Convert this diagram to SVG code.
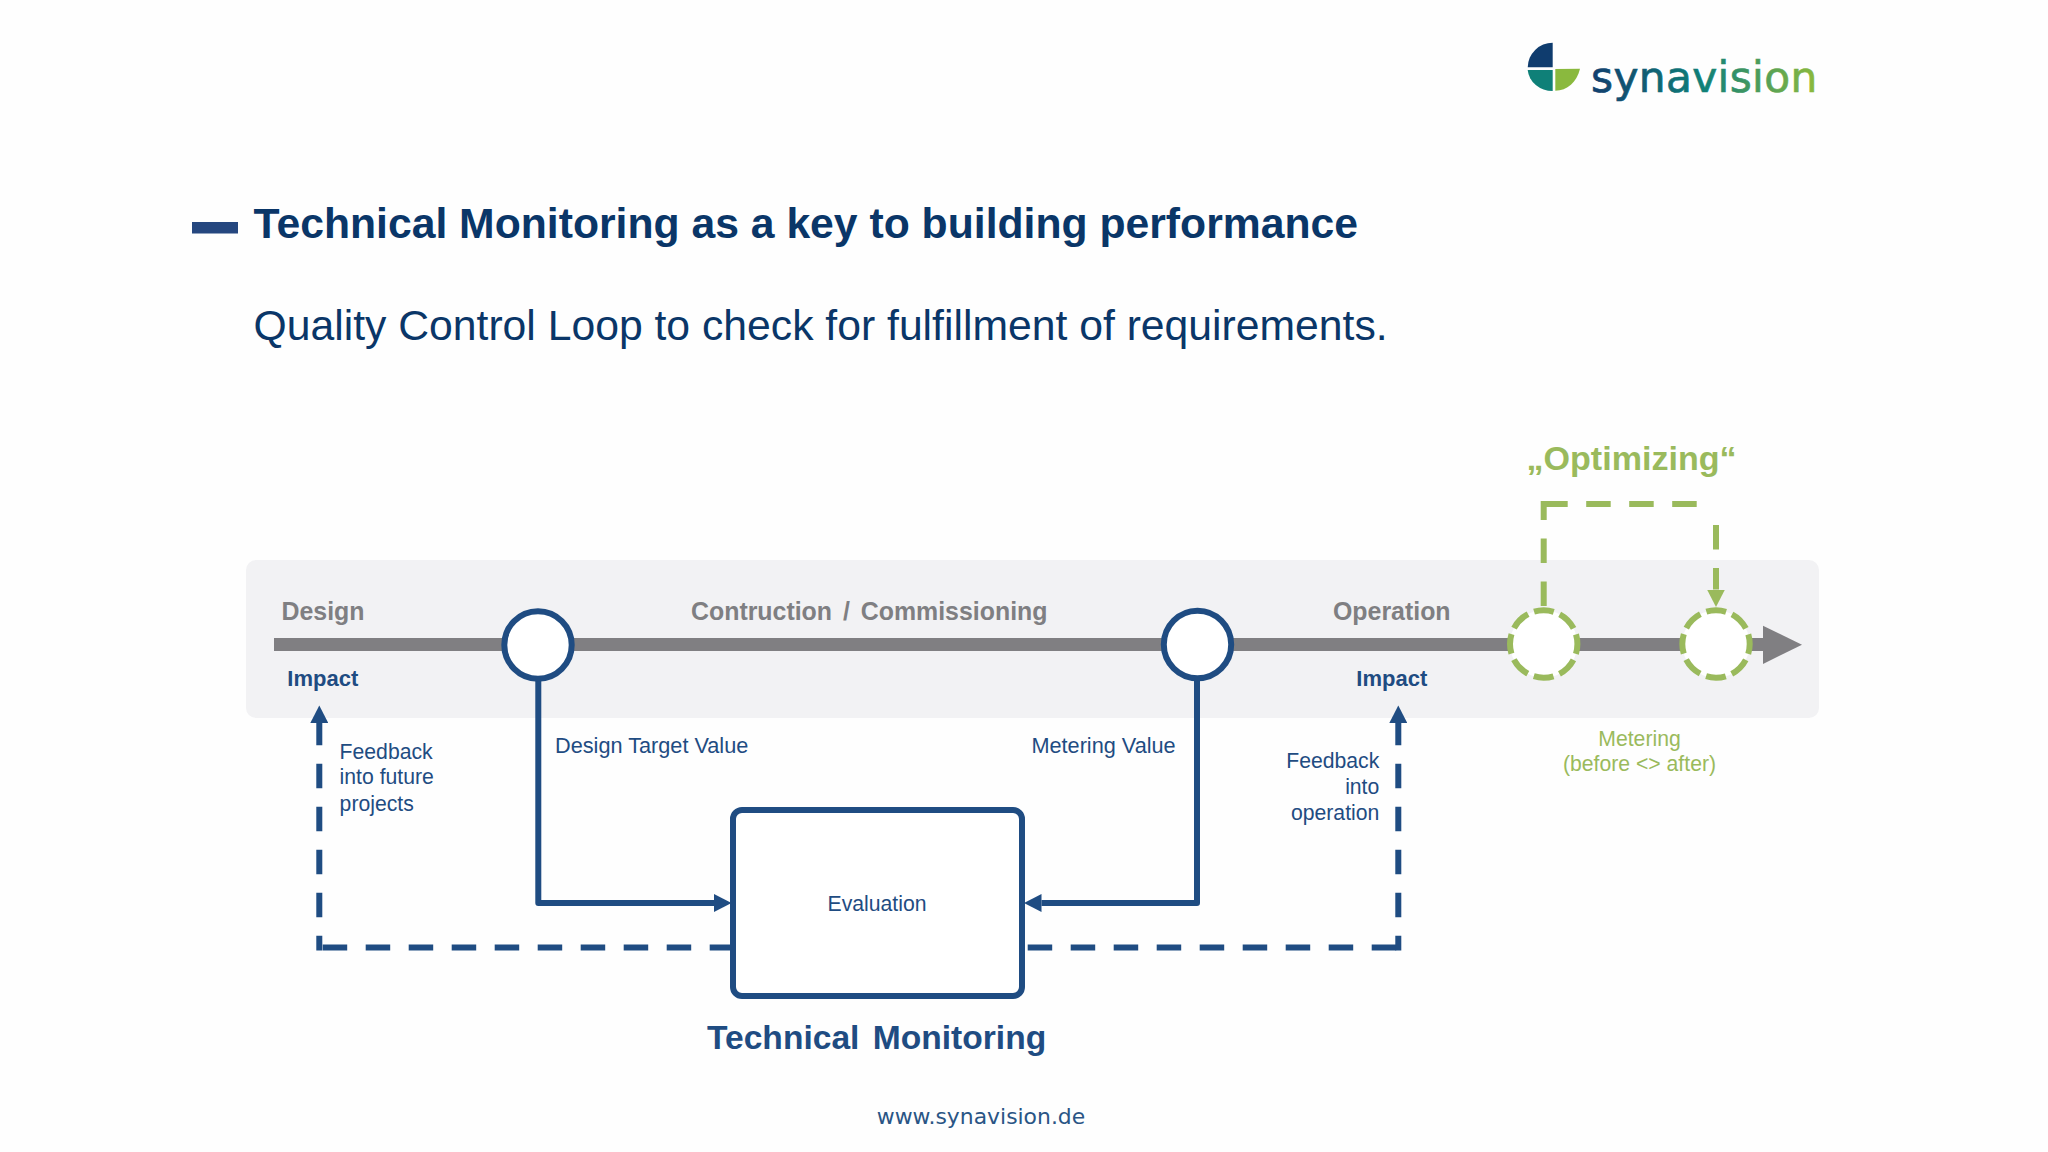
<svg xmlns="http://www.w3.org/2000/svg" width="2048" height="1152" viewBox="0 0 2048 1152">
<style>
text{font-family:"Liberation Sans",Arial,sans-serif}
.navy{fill:#0a3668}
.blue{fill:#1f4c82}
.grey{fill:#7f7f82;font-weight:700;font-size:24.9px}
.green{fill:#9aba5c}
.s{font-size:21.2px}
.m{font-size:21.7px}
.b{font-weight:700}
.sol{fill:none;stroke:#1f4c82;stroke-width:6;stroke-linejoin:round}
.dash{fill:none;stroke:#1f4c82;stroke-width:6;stroke-dasharray:24.5 18.5}
.gd{fill:none;stroke:#9aba5c;stroke-width:6;stroke-dasharray:24.5 18.5}
.node{fill:#fff;stroke:#1f4c82;stroke-width:6}
.gnode{fill:#fff;stroke:#9aba5c;stroke-width:6;stroke-dasharray:20 6.46;stroke-dashoffset:10}
</style>
<defs>
<linearGradient id="lg" gradientUnits="userSpaceOnUse" x1="1592" y1="0" x2="1815" y2="0">
<stop offset="0" stop-color="#123f6e"/><stop offset="0.5" stop-color="#0f8078"/><stop offset="1" stop-color="#8ab93e"/>
</linearGradient>
<marker id="ab" markerUnits="userSpaceOnUse" markerWidth="18" markerHeight="18" refX="0" refY="9" orient="auto-start-reverse"><path d="M0 0L17.5 9L0 18Z" fill="#1f4c82"/></marker>
<marker id="ag" markerUnits="userSpaceOnUse" markerWidth="18" markerHeight="18" refX="0" refY="9" orient="auto"><path d="M0 0L17.5 9L0 18Z" fill="#9aba5c"/></marker>
</defs>
<rect width="2048" height="1152" fill="#fefefe"/>
<g id="logo">
<path d="M1552.7 42.7A25 25 0 0 0 1527.7 67.3H1552.7Z" fill="#0f3c6e"/>
<path d="M1527.7 70A25 23 0 0 0 1552.7 91V70Z" fill="#0f8078"/>
<path d="M1555.3 69V90.7C1567 90.7 1577 82 1580 68.7Z" fill="#8ab93e"/>
<text x="1591" y="92" font-size="42.3" letter-spacing="0.35" stroke="url(#lg)" stroke-width="0.7" style="font-family:'DejaVu Sans',sans-serif" fill="url(#lg)">synavision</text>
</g>
<g id="title">
<rect x="192" y="222" width="46" height="11.5" fill="#25477f"/>
<text x="253.5" y="238.2" font-size="42.7" class="navy b">Technical Monitoring as a key to building performance</text>
<text x="253.5" y="340" font-size="42.7" class="navy">Quality Control Loop to check for fulfillment of requirements.</text>
</g>
<rect id="band" x="246" y="560" width="1573" height="158" rx="10" fill="#f2f2f4"/>
<g id="timeline">
<rect x="274" y="638" width="1490" height="13" fill="#807f82"/>
<path d="M1763 625.7L1802 644.7L1763 664Z" fill="#807f82"/>
</g>
<text x="281.5" y="620" class="grey">Design</text>
<text x="691" y="620" class="grey" word-spacing="4">Contruction / Commissioning</text>
<text x="1333" y="620" class="grey">Operation</text>
<text x="287.3" y="685.7" font-size="22" class="blue b">Impact</text>
<text x="1356.3" y="685.7" font-size="22" class="blue b">Impact</text>
<g id="connectors">
<path class="sol" d="M538.3 678V903H714" marker-end="url(#ab)"/>
<path class="sol" d="M1197 678V903H1041.5" marker-end="url(#ab)"/>
<path class="dash" d="M322.7 947.5H733"/>
<path class="dash" style="stroke-dashoffset:2.2" d="M319.3 723V950.5" marker-start="url(#ab)"/>
<path class="dash" d="M1027.7 947.5H1400"/>
<path class="dash" style="stroke-dashoffset:2.2" d="M1398.3 723V950.5" marker-start="url(#ab)"/>
<path class="gd" d="M1543.7 606V501"/>
<path class="gd" d="M1543.2 504H1697"/>
<path class="gd" d="M1716 525V589.5" marker-end="url(#ag)"/>
</g>
<g id="n1"><circle class="node" cx="538" cy="645" r="33.7"/></g>
<g id="n2"><circle class="node" cx="1197.5" cy="644.5" r="33.7"/></g>
<g id="n3"><circle class="gnode" cx="1543.7" cy="644" r="33.7"/></g>
<g id="n4"><circle class="gnode" cx="1716" cy="644" r="33.7"/></g>
<g id="eval"><rect class="node" x="733" y="810" width="289" height="186" rx="9"/><text x="877" y="910.7" text-anchor="middle" class="blue s">Evaluation</text></g>
<text x="707" y="1048.8" font-size="33.6" word-spacing="4" class="blue b">Technical Monitoring</text>
<g class="blue s"><text x="339.6" y="758.5">Feedback</text><text x="339.6" y="784.3">into future</text><text x="339.6" y="810.5">projects</text></g>
<text x="555" y="753" class="blue m">Design Target Value</text>
<text x="1175.7" y="752.7" text-anchor="end" class="blue m">Metering Value</text>
<g class="blue s" text-anchor="end"><text x="1379.3" y="768.3">Feedback</text><text x="1379.3" y="794">into</text><text x="1379.3" y="820.3">operation</text></g>
<text x="1639.5" y="746" text-anchor="middle" class="green s">Metering</text>
<text x="1639.5" y="771" text-anchor="middle" class="green s">(before &lt;&gt; after)</text>
<text x="1526.5" y="470" font-size="34.1" class="green b">„Optimizing“</text>
<text x="981" y="1124" text-anchor="middle" font-size="21.9" fill="#2a5585" style="font-family:'DejaVu Sans',sans-serif">www.synavision.de</text>
</svg>
